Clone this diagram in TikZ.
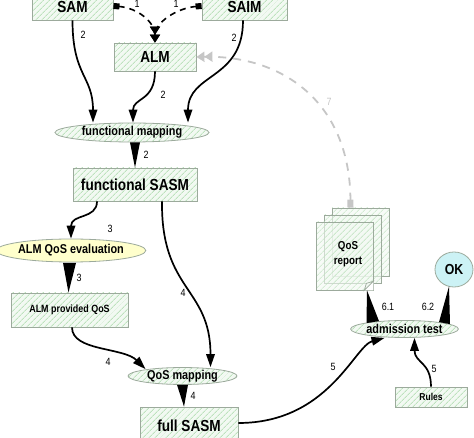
\documentclass[tikz,border=0pt]{standalone}
\usepackage{fontspec}
\setmainfont{Liberation Sans}[FakeStretch=0.85]
\usetikzlibrary{arrows.meta,patterns.meta,shapes.geometric}
\definecolor{hbg}{HTML}{F2F9F2}
\definecolor{hfg}{HTML}{BDE2BD}
\definecolor{bord}{HTML}{9CAA9C}
\definecolor{yel}{HTML}{FFFFCC}
\definecolor{cyn}{HTML}{CCF2F5}
\definecolor{grl}{HTML}{C6C6C6}
\tikzset{
  hatch/.style={preaction={fill=hbg}, pattern={Lines[angle=45,distance=4pt,line width=0.9pt]}, pattern color=hfg},
  box/.style={draw=bord, line width=0.8pt, hatch, rectangle, inner sep=0pt, font=\bfseries\fontsize{16}{18}\selectfont},
  oval/.style={draw=bord, line width=0.8pt, ellipse, inner sep=0pt, font=\bfseries\fontsize{12.8}{15}\selectfont},
  page/.style={draw=bord, line width=0.7pt, hatch, rectangle, inner sep=0pt, minimum width=57pt, minimum height=68pt, fill opacity=0.6},
  arr/.style={line width=1.7pt, -{Triangle[length=13pt,width=8.5pt]}},
  dsh/.style={line width=1.6pt, dash pattern=on 6pt off 5pt, {Square[length=6pt,width=6pt,sep=0pt]}-{Triangle[length=8pt,width=10pt]Triangle[length=8pt,width=10pt]}},
  gdsh/.style={draw=grl, line width=1.8pt, dash pattern=on 8pt off 7pt, {Square[length=8pt,width=6pt]}-{Triangle[length=8pt,width=10pt]Triangle[length=8pt,width=10pt]}},
  lbl/.style={font=\fontsize{10.5}{12}\selectfont, inner sep=0pt},
}
\begin{document}
\begin{tikzpicture}[x=1pt,y=-1pt]
\useasboundingbox (0,0) rectangle (474,438);
\clip (0,0) rectangle (474,438);
% nodes
\node[box, minimum width=81pt, minimum height=26pt, text depth=0pt] (sam) at (72.5,7) {SAM};
\node[box, minimum width=85pt, minimum height=26pt, text depth=0pt] (saim) at (244.5,7) {SAIM};
\node[box, minimum width=82pt, minimum height=28pt] (alm) at (155,57) {ALM};
\node[oval, hatch, minimum width=154pt, minimum height=19pt] (fm) at (132,132.5) {functional mapping};
\node[box, minimum width=124pt, minimum height=33pt] (sasm) at (135,184.5) {functional SASM};
\node[oval, fill=yel, minimum width=142pt, minimum height=23pt] (qe) at (71,250.5) {ALM QoS evaluation};
\node[box, minimum width=117pt, minimum height=34pt, font=\bfseries\fontsize{10.5}{12}\selectfont] (apq) at (69.5,310) {ALM provided QoS};
\node[oval, hatch, minimum width=109pt, minimum height=16pt] (qm) at (182.5,376) {QoS mapping};
\node[box, minimum width=98pt, minimum height=38pt] (fs) at (189,426) {full SASM};
\node[oval, hatch, minimum width=103pt, minimum height=17pt] (at) at (404.5,329) {admission test};
\node[box, minimum width=72pt, minimum height=20pt, font=\bfseries\fontsize{10}{12}\selectfont] (rules) at (431,397) {Rules};
\node[oval, fill=cyn, minimum width=38pt, minimum height=35pt, font=\bfseries\fontsize{14.5}{16}\selectfont] (ok) at (454,269.5) {OK};
% QoS report pages
\node[page] (rep3) at (360.5,242) {};
\node[page] (rep2) at (352.5,249) {};
\node[page] (rep1) at (344.5,256) {};
\fill[white] ([xshift=-9pt]rep1.south east) -- (rep1.south east) -- ([yshift=9pt]rep1.south east) -- cycle;
\draw[bord, line width=0.7pt, fill=hbg] ([xshift=-9pt]rep1.south east) -- ([yshift=9pt]rep1.south east) -- ([xshift=-7pt,yshift=7pt]rep1.south east) -- cycle;
\node[font=\bfseries\fontsize{11.5}{15}\selectfont, align=center, inner sep=0pt] (qrt) at (348,254.5) {QoS\\report};
% edges 1
\draw[dsh] ([yshift=1pt]sam.east) .. controls +(25,2) and +(0,-20) .. (alm.north);
\draw[dsh] ([yshift=1pt]saim.west) .. controls +(-25,2) and +(0,-20) .. (alm.north);
\node[lbl] (l1a) at (137,4) {1};
\node[lbl] (l1b) at (176,4) {1};
% edges 2
\draw[arr] (sam.south) .. controls +(0,56) and +(0,-47) .. ([xshift=-39pt]fm.north);
\draw[arr] (alm.south) .. controls +(0,30) and +(0,-25) .. ([xshift=1pt]fm.north);
\draw[arr] ([xshift=-1.5pt]saim.south) .. controls +(0,60) and +(0,-50) .. ([xshift=56pt]fm.north);
\node[lbl] (l2a) at (83,35) {2};
\node[lbl] (l2b) at (163,95) {2};
\node[lbl] (l2c) at (234,38) {2};
\fill ([xshift=-2pt]fm.south) -- ([xshift=8pt]fm.south) -- (sasm.north) -- cycle;
\node[lbl] (l2d) at (146,155) {2};
% edges 3
\draw[arr] ([xshift=-38pt]sasm.south) .. controls +(0,18) and +(0,-25) .. (qe.north);
\node[lbl] (l3a) at (110,229) {3};
\fill ([xshift=-8pt,yshift=-0.5pt]qe.south) -- ([xshift=5pt,yshift=-0.5pt]qe.south) -- ([xshift=-1pt]apq.north) -- cycle;
\node[lbl] (l3b) at (79,278) {3};
% edges 4
\draw[arr] ([xshift=27pt]sasm.south) .. controls +(-1,90) and +(0,-80) .. ([xshift=28pt]qm.north);
\node[lbl] (l4a) at (183,293) {4};
\draw[arr] ([xshift=2.5pt]apq.south) .. controls +(0,24) and +(-22,-22) .. ([xshift=-37pt,yshift=-2pt]qm.north);
\node[lbl] (l4b) at (108,362) {4};
\fill ([xshift=-5.5pt]qm.south) -- ([xshift=5.5pt]qm.south) -- ([xshift=-5pt]fs.north) -- cycle;
\node[lbl] (l4c) at (193,396) {4};
% edges 5
\draw[arr] ([yshift=3pt]fs.east) .. controls +(90,0) and +(-30,8) .. ([xshift=-20pt]at.south);
\node[lbl] (l5a) at (333,367) {5};
\draw[arr] (rules.north) .. controls +(0,-25) and +(0,25) .. ([xshift=10pt]at.south);
\node[lbl] (l5b) at (434,369) {5};
% edges 6
\fill ([xshift=-38pt,yshift=-3pt]at.north) -- ([xshift=-25.5pt,yshift=-1pt]at.north) -- ([xshift=22.5pt]rep1.south) -- cycle;
\node[lbl] (l61) at (388,307) {6.1};
\fill ([xshift=34.5pt,yshift=-2pt]at.north) -- ([xshift=45.5pt,yshift=-4pt]at.north) -- ([xshift=-5pt,yshift=1pt]ok.south) -- cycle;
\node[lbl] (l62) at (428,307) {6.2};
% edge 7
\draw[gdsh] ([xshift=-10pt]rep3.north) .. controls (350,100) and (280,55) .. (alm.east);
\node[lbl, text=grl] (l7) at (329,102) {7};
\end{tikzpicture}
\end{document}
